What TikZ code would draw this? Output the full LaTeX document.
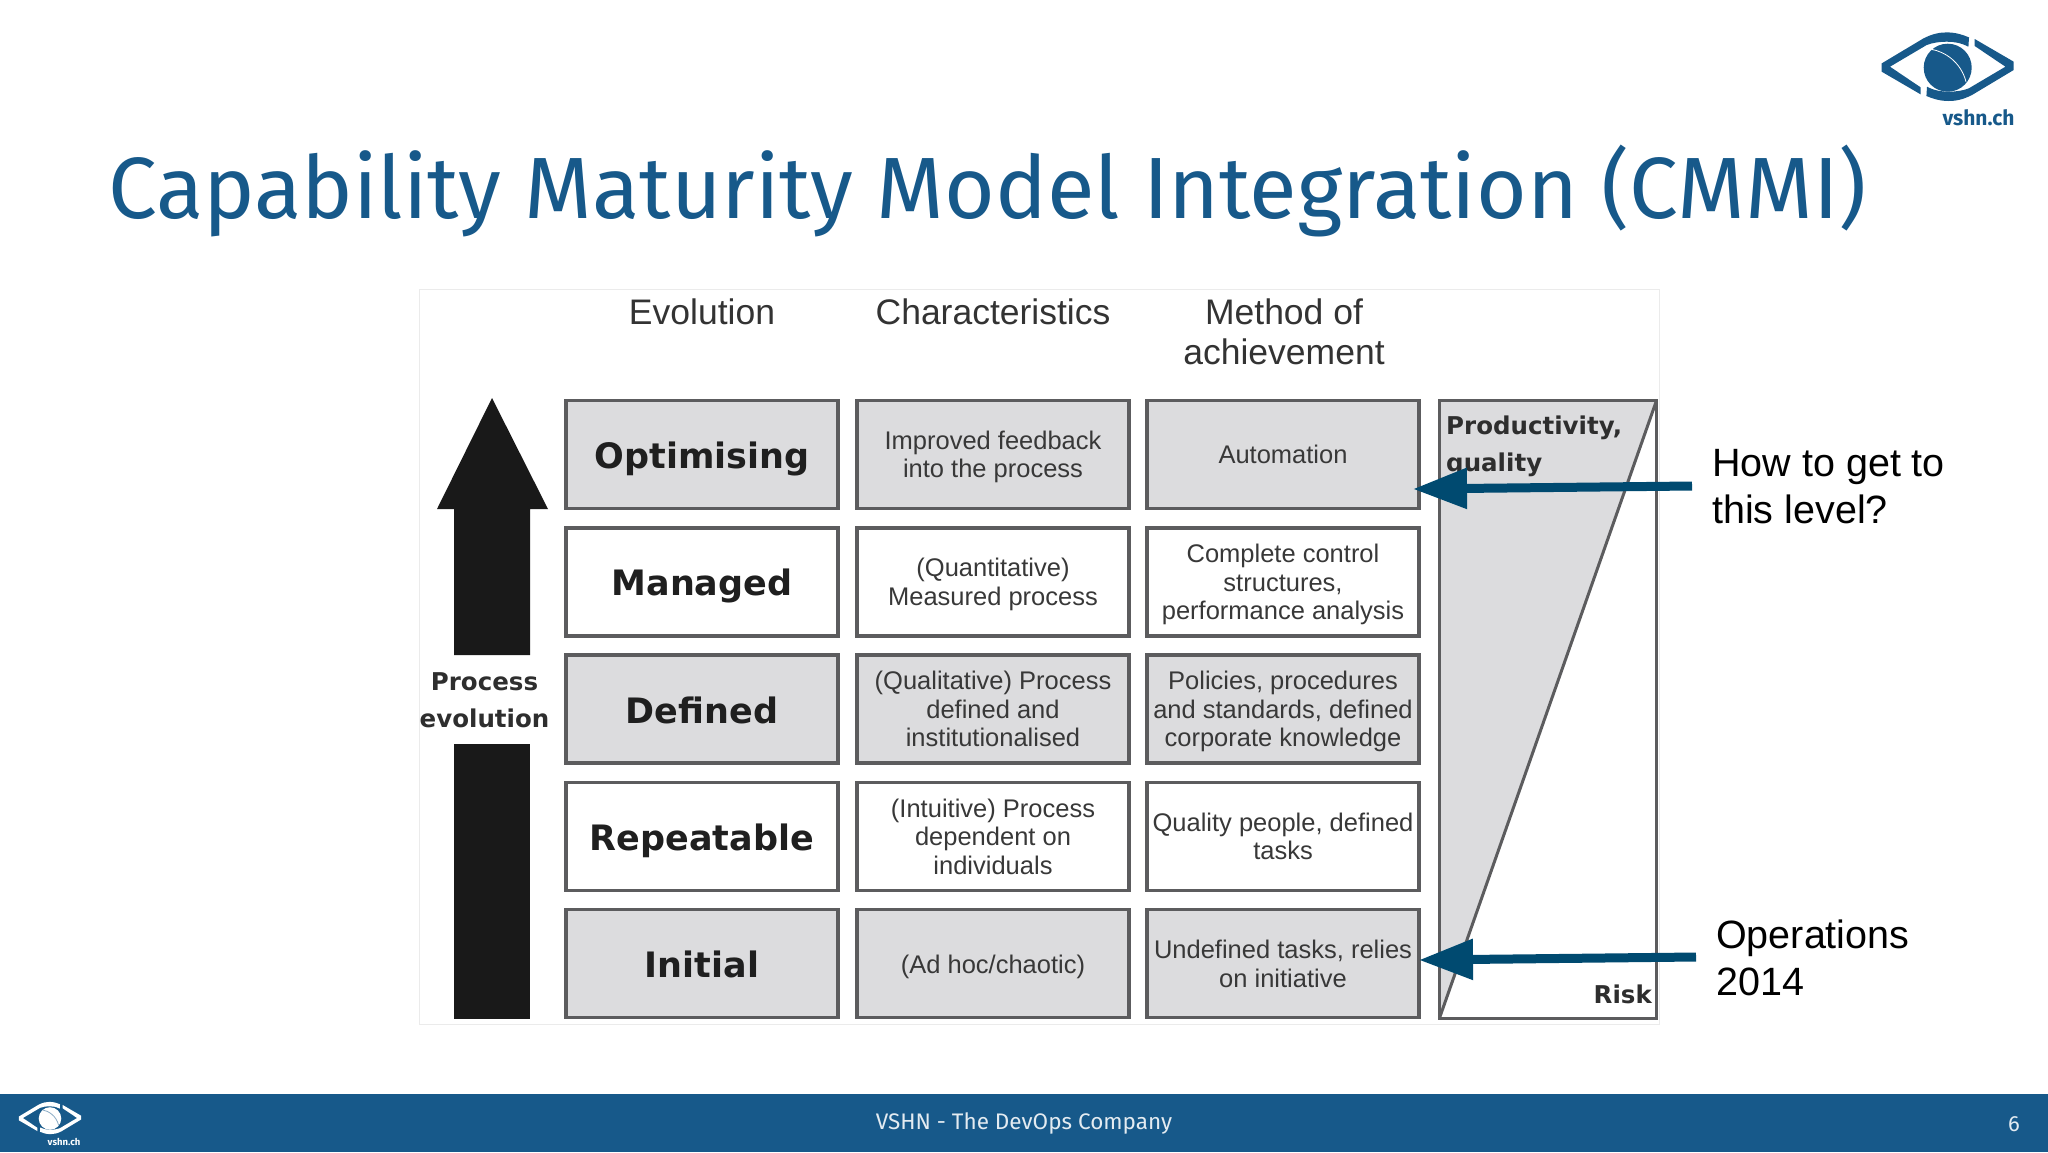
\documentclass[tikz,border=0pt]{standalone}
\usepackage{fontspec}
\setmainfont{Liberation Sans}
\newfontfamily\titlefont{Fira Sans}
\newfontfamily\cellfont{DejaVu Sans}
\usetikzlibrary{positioning, arrows.meta}
\definecolor{vshnblue}{HTML}{17598A}
\definecolor{arrowblue}{HTML}{004A70}
\definecolor{cellgray}{HTML}{DCDCDE}
\definecolor{edgegray}{HTML}{5C5C5E}
\tikzset{
  cellbox/.style={draw=edgegray, line width=3.5pt, outer sep=0pt, minimum width=272pt, minimum height=108pt,
    inner sep=0pt, align=center, text=black!78, font=\fontsize{25.5}{28.5}\selectfont},
  shaded/.style={fill=cellgray},
  levelbox/.style={cellbox, text=black!88, text height=30pt, text depth=2pt, font=\cellfont\bfseries\fontsize{35}{40}\selectfont},
  headtext/.style={inner sep=0pt, align=center, text=black!80, font=\fontsize{35.5}{39.5}\selectfont},
  smallbold/.style={inner sep=0pt, text=black!82, font=\cellfont\bfseries\fontsize{24.5}{36.5}\selectfont},
  notetext/.style={inner sep=0pt, align=left, anchor=west, font=\fontsize{39.5}{47}\selectfont},
  notearrow/.style={draw=arrowblue, line width=9pt, -{Triangle[length=54pt,width=39pt]}},
  pics/eyelogo/.style n args={2}{code={
    \foreach \turn in {0,180} {
      \fill[#1, rotate=\turn] (-66,-3.3) -- (-24.3,-28.3) .. controls (-15,-33) and (-8,-34.3) .. (-1,-34.3)
        .. controls (8,-34.3) and (15,-32) .. (21.3,-29.3) -- (20.7,-20)
        .. controls (13,-24) and (6,-25) .. (-1,-25) .. controls (-8,-25) and (-15,-24) .. (-21,-21.7)
        -- (-57.7,0) -- (-27,20.7) -- (-27,27.7) -- (-66,5) -- cycle;
    }
    \fill[#1] (0,1) circle (24);
    \draw[#2, line width=0.8pt] (-16,-17.3) .. controls (-3,-15) and (13,-5) .. (18.3,15);
  }}
}
\begin{document}
\begin{tikzpicture}[x=1pt, y=-1pt]
  \useasboundingbox (0,0) rectangle (2048,1152);

  % title and logo
  \node[anchor=base west, inner sep=0pt, text=vshnblue, font=\titlefont\fontsize{87}{100}\selectfont] (title) at (108,218)
    {Capability Maturity Model Integration (CMMI)};
  \pic at (1947.7,66.7) {eyelogo={vshnblue}{white}};
  \node[inner sep=0pt, text=vshnblue, font=\titlefont\bfseries\fontsize{21}{24}\selectfont] (logotext) at (1978.5,118) {vshn.ch};

  % scanned panel
  \node[draw=black!8, line width=1pt, minimum width=1240pt, minimum height=735pt, inner sep=0pt, anchor=north west] (panel) at (419,289) {};

  % first row
  \node[levelbox, shaded] (optimising) at (702,454.5) {Optimising};
  \node[cellbox, shaded, right=19pt of optimising] (feedback) {Improved feedback\\\smash{into the process}};
  \node[cellbox, shaded, right=18pt of feedback] (automation) {Automation};

  % the other rows
  \node[levelbox, below=19.3pt of optimising] (managed) {Managed};
  \node[cellbox, below=19.3pt of feedback] (measured) {(Quantitative)\\\smash{Measured process}};
  \node[cellbox, below=19.3pt of automation] (control) {Complete control\\structures,\\\smash{performance analysis}};

  \node[levelbox, shaded, below=19.3pt of managed] (defined) {Defined};
  \node[cellbox, shaded, below=19.3pt of measured] (qualitative) {(Qualitative) Process\\defined and\\institutionalised};
  \node[cellbox, shaded, below=19.3pt of control] (policies) {Policies, procedures\\and standards, defined\\\smash{corporate knowledge}};

  \node[levelbox, below=19.3pt of defined] (repeatable) {Repeatable};
  \node[cellbox, below=19.3pt of qualitative] (intuitive) {(Intuitive) Process\\dependent on\\individuals};
  \node[cellbox, below=19.3pt of policies] (people) {Quality people, defined\\tasks};

  \node[levelbox, shaded, below=19.3pt of repeatable] (initial) {Initial};
  \node[cellbox, shaded, below=19.3pt of intuitive] (adhoc) {\raisebox{-9.3pt}[0pt][0pt]{(Ad hoc/chaotic)}};
  \node[cellbox, shaded, below=19.3pt of people] (undefined) {Undefined tasks, relies\\on initiative};

  % column heads
  \node[headtext] (evolution) at (702,312) {Evolution};
  \node[headtext] (characteristics) at (993,312) {Characteristics};
  \node[headtext, anchor=north] (method) at (1284,299) {Method of\\achievement};

  % process arrow
  \fill[black!90] (492,398) -- (548,509) -- (530,509) -- (530,655) -- (454,655) -- (454,509) -- (437,509) -- cycle;
  \fill[black!90] (454,744) rectangle (530,1019);
  \node[smallbold, align=center] (process) at (484.5,700) {Process\\evolution};

  % productivity against risk
  \node[draw=edgegray, line width=3pt, outer sep=0pt, minimum width=217pt, minimum height=617.5pt, inner sep=0pt, anchor=north west] (riskbox) at (1439.5,400.5) {};
  \fill[cellgray] (riskbox.north west) -- (riskbox.north east) -- (riskbox.south west) -- cycle;
  \draw[edgegray, line width=3pt] (riskbox.north west) rectangle (riskbox.south east);
  \draw[edgegray, line width=3pt] (riskbox.north east) -- (riskbox.south west);
  \node[smallbold, align=left, anchor=north west] (productivity) at (1446,416) {Productivity,\\quality};
  \node[smallbold, anchor=east] (risk) at (1652,994) {Risk};

  % notes
  \node[notetext] (howto) at (1712,487) {How to get to\\this level?};
  \node[notetext] (operations) at (1716,958) {Operations\\2014};
  \coordinate (howstart) at (1692,486);
  \coordinate (howtip) at (1413,489);
  \coordinate (opsstart) at (1696,957);
  \coordinate (opstip) at (1419,960);
  \draw[notearrow] (howstart) -- (howtip);
  \draw[notearrow] (opsstart) -- (opstip);

  % footer
  \node[fill=vshnblue, minimum width=2048pt, minimum height=58pt, inner sep=0pt, outer sep=0pt, anchor=north west] (footer) at (0,1094) {};
  \pic[scale=0.47] at (50,1118) {eyelogo={white}{vshnblue!50!white}};
  \node[inner sep=0pt, text=white, font=\titlefont\bfseries\fontsize{9.5}{12}\selectfont] (footlogo) at (64,1142) {vshn.ch};
  \node[inner sep=0pt, text=white!88!vshnblue, font=\titlefont\fontsize{22.5}{26}\selectfont] (company) at (1024,1123) {VSHN - The DevOps Company};
  \node[inner sep=0pt, text=white!88!vshnblue, font=\titlefont\fontsize{22}{26}\selectfont] (pagenum) at (2014,1124) {6};
\end{tikzpicture}
\end{document}
